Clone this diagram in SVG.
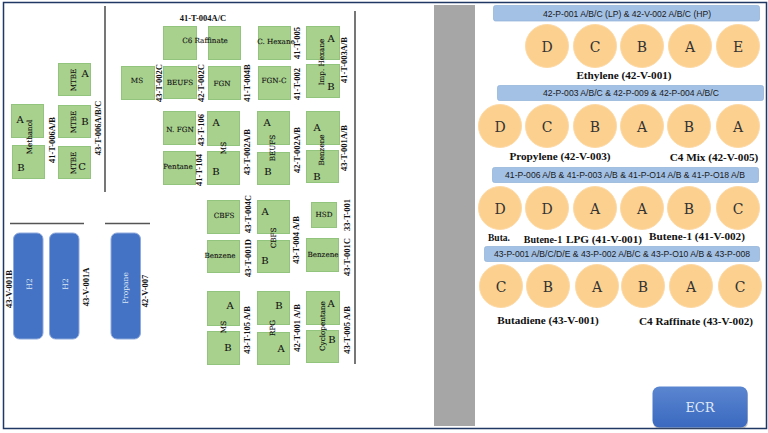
<svg xmlns="http://www.w3.org/2000/svg" width="768" height="433" viewBox="0 0 768 433">
<style>
text{text-anchor:middle;dominant-baseline:central}
.b{fill:#a9d18e;stroke:#93c47d;stroke-width:1}
.t{font:7.2px "DejaVu Serif",serif;fill:#111;stroke:#111;stroke-width:.12}
.l{font:10px "DejaVu Serif",serif;fill:#111;stroke:#111;stroke-width:.12}
.v{font:bold 8.5px "Liberation Serif",serif;fill:#111}
.tank{fill:#4472c4;stroke:#8faadc;stroke-width:1}
.w{font:7.5px "DejaVu Serif",serif;fill:#dfe8f6}
.c{fill:#fcd08f;stroke:#fdd9a5;stroke-width:1}
.cl{font:14px "DejaVu Serif",serif;fill:#333}
.bar{fill:#a3c1e5;stroke:#8fb0d8;stroke-width:.7}
.bt{font:8.6px "Liberation Sans",sans-serif;fill:#1a1a1a}
.n{font:bold 11.2px "Liberation Serif",serif;fill:#111}
.d{stroke:#555;stroke-width:1.6;fill:none}
</style>
<defs>
<linearGradient id="ecr" x1="0" y1="0" x2="0" y2="1"><stop offset="0" stop-color="#5a85d0"/><stop offset="1" stop-color="#3a69bf"/></linearGradient>
</defs>
<rect width="768" height="433" fill="#fff"/>
<rect x="3.500" y="2.500" width="763" height="426" fill="none" stroke="#1f3864" stroke-width="1.500"/>
<rect x="434" y="5" width="41" height="421" fill="#a6a6a6"/>
<g id="connectors">
<path class="d" d="M105 6V192M355 11V364M10 223.500H84M105 223.500H150"/>
</g>
<g id="methanol">
<rect class="b" x="11.500" y="104.500" width="32" height="33"/><rect class="b" x="12.500" y="145.500" width="32" height="33"/>
<text class="l" x="20" y="119">A</text><text class="l" x="21" y="167">B</text>
<text class="t" transform="translate(29 137) rotate(-90)">Methanol</text>
<text class="v" transform="translate(52 140) rotate(-90)">41-T-006A/B</text>
</g>
<g id="mtbe">
<rect class="b" x="58.500" y="63.500" width="32" height="32"/><rect class="b" x="58.500" y="105.500" width="32" height="32"/><rect class="b" x="58.500" y="146.500" width="32" height="32"/>
<text class="t" transform="translate(73 80) rotate(-90)">MTBE</text><text class="t" transform="translate(73 122) rotate(-90)">MTBE</text><text class="t" transform="translate(73 163) rotate(-90)">MTBE</text>
<text class="l" x="85" y="73">A</text><text class="l" x="85" y="121">B</text><text class="l" x="82" y="166">C</text>
<text class="v" transform="translate(98 128) rotate(-90)">43-T-006A/B/C</text>
</g>
<g id="c6-raffinate">
<rect class="b" x="163.500" y="26.500" width="33" height="33"/><rect class="b" x="208.500" y="26.500" width="32" height="33"/>
<text class="t" x="205" y="40">C6 Raffinate</text>
<text class="v" x="203" y="18">41-T-004A/C</text>
</g>
<g id="ms-1"><rect class="b" x="121.500" y="66.500" width="33" height="33"/><text class="t" x="137" y="80">MS</text><text class="v" transform="translate(159 83) rotate(-90)">43-T-002C</text></g>
<g id="beufs-1"><rect class="b" x="163.500" y="66.500" width="33" height="32"/><text class="t" x="180" y="82">BEUFS</text><text class="v" transform="translate(201 83) rotate(-90)">42-T-002C</text></g>
<g id="fgn"><rect class="b" x="208.500" y="66.500" width="32" height="33"/><text class="t" x="222" y="83">FGN</text><text class="v" transform="translate(247 83) rotate(-90)">41-T-004B</text></g>
<g id="fgn-c"><rect class="b" x="258.500" y="66.500" width="32" height="33"/><text class="t" x="274" y="80">FGN-C</text><text class="v" transform="translate(297 84) rotate(-90)">41-T-002</text></g>
<g id="c-hexane"><rect class="b" x="258.500" y="26.500" width="32" height="33"/><text class="t" x="276" y="41">C. Hexane</text><text class="v" transform="translate(297 43) rotate(-90)">41-T-005</text></g>
<g id="imp-hexane">
<rect class="b" x="306.500" y="26.500" width="33" height="33"/><rect class="b" x="306.500" y="64.500" width="33" height="33"/>
<text class="l" x="331" y="38">A</text><text class="l" x="331" y="86">B</text>
<text class="t" transform="translate(321 62) rotate(-90)">Imp. Hexane</text>
<text class="v" transform="translate(344 60) rotate(-90)">41-T-003A/B</text>
</g>
<g id="n-fgn"><rect class="b" x="163.500" y="111.500" width="32" height="33"/><text class="t" x="180" y="129">N. FGN</text><text class="v" transform="translate(201 130) rotate(-90)">43-T-106</text></g>
<g id="pentane"><rect class="b" x="163.500" y="151.500" width="32" height="33"/><text class="t" x="178" y="166">Pentane</text><text class="v" transform="translate(199 170) rotate(-90)">41-T-104</text></g>
<g id="ms-2">
<rect class="b" x="207.500" y="111.500" width="32" height="34"/><rect class="b" x="207.500" y="151.500" width="32" height="33"/>
<text class="l" x="216" y="122">A</text><text class="l" x="216" y="171">B</text>
<text class="t" transform="translate(223 148) rotate(-90)">MS</text>
<text class="v" transform="translate(247 152) rotate(-90)">43-T-002A/B</text>
</g>
<g id="beufs-2">
<rect class="b" x="257.500" y="111.500" width="32" height="33"/><rect class="b" x="257.500" y="152.500" width="32" height="32"/>
<text class="l" x="267" y="122">A</text><text class="l" x="268" y="171">B</text>
<text class="t" transform="translate(272 148) rotate(-90)">BEUFS</text>
<text class="v" transform="translate(297 150) rotate(-90)">42-T-002A/B</text>
</g>
<g id="benzene-1">
<rect class="b" x="306.500" y="111.500" width="33" height="33"/><rect class="b" x="306.500" y="150.500" width="32" height="32"/>
<text class="l" x="317" y="127">A</text><text class="l" x="317" y="176">B</text>
<text class="t" transform="translate(321 150) rotate(-90)">Benzene</text>
<text class="v" transform="translate(344 148) rotate(-90)">43-T-001A/B</text>
</g>
<g id="cbfs-1"><rect class="b" x="207.500" y="200.500" width="32" height="33"/><text class="t" x="224" y="215">CBFS</text><text class="v" transform="translate(248 214) rotate(-90)">43-T-004C</text></g>
<g id="benzene-2"><rect class="b" x="207.500" y="240.500" width="32" height="32"/><text class="t" x="220" y="255">Benzene</text><text class="v" transform="translate(248 258) rotate(-90)">43-T-001D</text></g>
<g id="cbfs-2">
<rect class="b" x="257.500" y="200.500" width="32" height="33"/><rect class="b" x="257.500" y="240.500" width="32" height="32"/>
<text class="l" x="265" y="211">A</text><text class="l" x="265" y="260">B</text>
<text class="t" transform="translate(273 238) rotate(-90)">CBFS</text>
<text class="v" transform="translate(296 240) rotate(-90)">43-T-004 A/B</text>
</g>
<g id="hsd"><rect class="b" x="311.500" y="202.500" width="25" height="25"/><text class="t" x="324" y="214">HSD</text><text class="v" transform="translate(347 215) rotate(-90)">33-T-001</text></g>
<g id="benzene-3"><rect class="b" x="306.500" y="238.500" width="32" height="33"/><text class="t" x="323" y="254">Benzene</text><text class="v" transform="translate(347 257) rotate(-90)">43-T-001C</text></g>
<g id="ms-3">
<rect class="b" x="207.500" y="291.500" width="32" height="34"/><rect class="b" x="207.500" y="331.500" width="32" height="33"/>
<text class="l" x="230" y="305">A</text><text class="l" x="228" y="347">B</text>
<text class="t" transform="translate(223 327) rotate(-90)">MS</text>
<text class="v" transform="translate(247 330) rotate(-90)">43-T-105 A/B</text>
</g>
<g id="rpg">
<rect class="b" x="257.500" y="291.500" width="32" height="33"/><rect class="b" x="257.500" y="332.500" width="32" height="32"/>
<text class="l" x="279" y="305">B</text><text class="l" x="281" y="348">A</text>
<text class="t" transform="translate(272 328) rotate(-90)">RPG</text>
<text class="v" transform="translate(297 328) rotate(-90)">42-T-001 A/B</text>
</g>
<g id="cyclopentane">
<rect class="b" x="306.500" y="291.500" width="33" height="33"/><rect class="b" x="306.500" y="330.500" width="32" height="32"/>
<text class="l" x="331" y="303">A</text><text class="l" x="332" y="339">B</text>
<text class="t" transform="translate(322 326) rotate(-90)">Cyclopentane</text>
<text class="v" transform="translate(347 330) rotate(-90)">43-T-005 A/B</text>
</g>
<g id="h2-b"><rect class="tank" x="13.500" y="233" width="29.500" height="106" rx="6"/><text class="w" transform="translate(29 284) rotate(-90)">H2</text><text class="v" transform="translate(9 289) rotate(-90)">43-V-001B</text></g>
<g id="h2-a"><rect class="tank" x="49.500" y="233" width="29.500" height="106" rx="6"/><text class="w" transform="translate(65 284) rotate(-90)">H2</text><text class="v" transform="translate(86 287) rotate(-90)">43-V-001A</text></g>
<g id="propane"><rect class="tank" x="111" y="233" width="29.500" height="106" rx="6"/><text class="w" transform="translate(125 288) rotate(-90)">Propane</text><text class="v" transform="translate(145 291) rotate(-90)">42-V-007</text></g>
<g id="row-1">
<rect class="bar" x="493.500" y="5.500" width="266" height="15.500" rx="2"/><text class="bt" x="627" y="13.500">42-P-001 A/B/C (LP) &amp; 42-V-002 A/B/C (HP)</text>
<circle class="c" cx="547" cy="46" r="21.500"/><text class="cl" x="547" y="47">D</text>
<circle class="c" cx="595" cy="46" r="21.500"/><text class="cl" x="595" y="47">C</text>
<circle class="c" cx="642" cy="46" r="21.500"/><text class="cl" x="642" y="47">B</text>
<circle class="c" cx="690" cy="46" r="21.500"/><text class="cl" x="690" y="47">A</text>
<circle class="c" cx="738" cy="46" r="21.500"/><text class="cl" x="738" y="47">E</text>
<text class="n" x="624" y="75">Ethylene (42-V-001)</text>
</g>
<g id="row-2">
<rect class="bar" x="497.500" y="85.500" width="266" height="15" rx="2"/><text class="bt" x="631" y="93">42-P-003 A/B/C &amp; 42-P-009 &amp; 42-P-004 A/B/C</text>
<circle class="c" cx="500" cy="126" r="21.500"/><text class="cl" x="500" y="127">D</text>
<circle class="c" cx="547" cy="126" r="21.500"/><text class="cl" x="547" y="127">C</text>
<circle class="c" cx="595" cy="126" r="21.500"/><text class="cl" x="595" y="127">B</text>
<circle class="c" cx="642" cy="126" r="21.500"/><text class="cl" x="642" y="127">A</text>
<circle class="c" cx="689" cy="126" r="21.500"/><text class="cl" x="689" y="127">B</text>
<circle class="c" cx="738" cy="126" r="21.500"/><text class="cl" x="738" y="127">A</text>
<text class="n" x="560" y="156">Propylene (42-V-003)</text>
<text class="n" x="714" y="157">C4 Mix (42-V-005)</text>
</g>
<g id="row-3">
<rect class="bar" x="492.500" y="167.500" width="266" height="15" rx="2"/><text class="bt" x="625" y="175">41-P-006 A/B &amp; 41-P-003 A/B &amp; 41-P-O14 A/B &amp; 41-P-O18 A/B</text>
<circle class="c" cx="500" cy="208" r="21.500"/><text class="cl" x="500" y="209">D</text>
<circle class="c" cx="547" cy="208" r="21.500"/><text class="cl" x="547" y="209">D</text>
<circle class="c" cx="595" cy="208" r="21.500"/><text class="cl" x="595" y="209">A</text>
<circle class="c" cx="642" cy="208" r="21.500"/><text class="cl" x="642" y="209">A</text>
<circle class="c" cx="689" cy="208" r="21.500"/><text class="cl" x="689" y="209">B</text>
<circle class="c" cx="738" cy="208" r="21.500"/><text class="cl" x="738" y="209">C</text>
<text class="n" x="499" y="238" style="font-size:9.500px">Buta.</text>
<text class="n" x="543" y="239" style="font-size:10px">Butene-1</text>
<text class="n" x="604" y="239">LPG (41-V-001)</text>
<text class="n" x="697" y="236">Butene-1 (41-V-002)</text>
</g>
<g id="row-4">
<rect class="bar" x="484.500" y="246.500" width="275" height="15" rx="2"/><text class="bt" x="622" y="254">43-P-001 A/B/C/D/E &amp; 43-P-002 A/B/C &amp; 43-P-O10 A/B &amp; 43-P-008</text>
<circle class="c" cx="501" cy="286" r="21.500"/><text class="cl" x="501" y="287">C</text>
<circle class="c" cx="548" cy="286" r="21.500"/><text class="cl" x="548" y="287">B</text>
<circle class="c" cx="597" cy="286" r="21.500"/><text class="cl" x="597" y="287">A</text>
<circle class="c" cx="643" cy="286" r="21.500"/><text class="cl" x="643" y="287">B</text>
<circle class="c" cx="691" cy="286" r="21.500"/><text class="cl" x="691" y="287">A</text>
<circle class="c" cx="740" cy="286" r="21.500"/><text class="cl" x="740" y="287">C</text>
<text class="n" x="548" y="320">Butadiene (43-V-001)</text>
<text class="n" x="696" y="321">C4 Raffinate (43-V-002)</text>
</g>
<g id="ecr-button">
<rect x="653" y="388" width="95" height="41" rx="7" fill="#555" opacity=".35"/>
<rect x="652.500" y="386.500" width="95" height="41" rx="7" fill="url(#ecr)"/>
<text x="700" y="407" style="font:13px 'DejaVu Serif',serif;fill:#dfe8f6">ECR</text>
</g>
</svg>
